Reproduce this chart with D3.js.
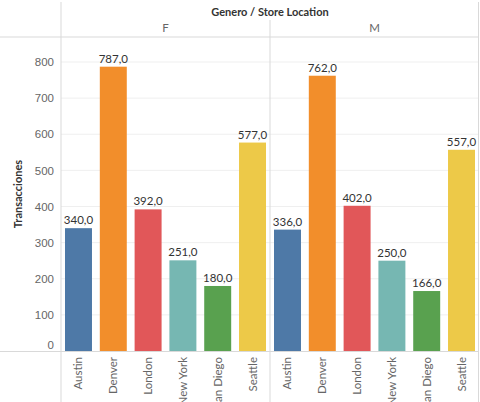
<!DOCTYPE html>
<html>
<head>
<meta charset="utf-8">
<script src="https://cdn.jsdelivr.net/npm/d3@7"></script>
<style>
  body { margin: 0; background: #fff; }
  svg { display: block; font-family: Lato, "Noto Sans", sans-serif; }
</style>
</head>
<body>
<svg width="480" height="402"></svg>
<script>
// data
const genders = ["F", "M"];
const cities = ["Austin", "Denver", "London", "New York", "San Diego", "Seattle"];
const valuesF = [340, 787, 392, 251, 180, 577];
const valuesM = [336, 762, 402, 250, 166, 557];
const yTicks = [0, 100, 200, 300, 400, 500, 600, 700, 800];
const cityColors = ["#4e79a7", "#f28e2b", "#e15759", "#76b7b2", "#59a14f", "#edc948"];

const svg = d3.select("svg");
const plotLeft = 61, plotRight = 479, headerLine = 37, base = 351;

const fmt = d3.formatLocale({ decimal: ",", thousands: ".", grouping: [3], currency: ["", ""] }).format(".1f");

const y = d3.scaleLinear().domain([0, 800]).range([base, 62]);
const xPanel = d3.scaleBand().domain(genders).range([plotLeft, plotRight]);
const xCity = d3.scaleBand().domain(cities).range([0, xPanel.bandwidth()])
  .paddingInner(0.225).paddingOuter(0.115);
const color = d3.scaleOrdinal().domain(cities).range(cityColors);

// gridlines
svg.append("g")
  .selectAll("line")
  .data(yTicks.slice(1))
  .join("line")
  .attr("x1", plotLeft).attr("x2", plotRight)
  .attr("y1", (d) => y(d)).attr("y2", (d) => y(d))
  .attr("stroke", "#efefef");

// y axis labels
const yAxis = svg.append("g")
  .attr("transform", `translate(${plotLeft},0)`)
  .call(d3.axisLeft(y).tickValues(yTicks).tickSize(0).tickPadding(7));
yAxis.select(".domain").remove();
yAxis.selectAll("text")
  .attr("fill", "#666").style("font-size", "11.5px")
  .attr("dy", (d) => (d === 0 ? "-0.2em" : "0.32em"));

svg.append("text")
  .attr("transform", "translate(22,194) rotate(-90)")
  .attr("text-anchor", "middle")
  .attr("fill", "#333").style("font-size", "11px").style("font-weight", "bold")
  .text("Transacciones");

// header
svg.append("text")
  .attr("x", (plotLeft + plotRight) / 2).attr("y", 16)
  .attr("text-anchor", "middle")
  .attr("fill", "#333").style("font-size", "11px").style("font-weight", "bold")
  .text("Genero / Store Location");

const panels = svg.append("g")
  .selectAll("g")
  .data(genders.map((g, i) => ({ g, vals: i === 0 ? valuesF : valuesM })))
  .join("g")
  .attr("transform", (d) => `translate(${xPanel(d.g)},0)`);

panels.append("text")
  .attr("x", xPanel.bandwidth() / 2).attr("y", 32)
  .attr("text-anchor", "middle")
  .attr("fill", "#666").style("font-size", "11.5px")
  .text((d) => d.g);

const bars = panels.selectAll("g.bar")
  .data((d) => cities.map((c, i) => ({ c, v: d.vals[i] })))
  .join("g").attr("class", "bar");

bars.append("rect")
  .attr("x", (d) => xCity(d.c))
  .attr("y", (d) => y(d.v))
  .attr("width", xCity.bandwidth())
  .attr("height", (d) => base - y(d.v))
  .attr("fill", (d) => color(d.c));

bars.append("text")
  .attr("x", (d) => xCity(d.c) + xCity.bandwidth() / 2)
  .attr("y", (d) => y(d.v) - 4)
  .attr("text-anchor", "middle")
  .attr("fill", "#333").style("font-size", "11.5px")
  .text((d) => fmt(d.v));

bars.append("text")
  .attr("transform", (d) => `translate(${xCity(d.c) + xCity.bandwidth() / 2 + 4},357) rotate(-90)`)
  .attr("text-anchor", "end")
  .attr("fill", "#666").style("font-size", "11.5px")
  .text((d) => d.c);

// frame lines
const lineCol = "#d9d9d9";
svg.append("line").attr("x1", 0).attr("x2", plotRight).attr("y1", headerLine).attr("y2", headerLine).attr("stroke", lineCol);
svg.append("line").attr("x1", 0).attr("x2", plotRight).attr("y1", base + 0.5).attr("y2", base + 0.5).attr("stroke", lineCol);
svg.append("line").attr("x1", plotLeft).attr("x2", plotLeft).attr("y1", 2).attr("y2", 402).attr("stroke", lineCol);
svg.append("line").attr("x1", xPanel("M")).attr("x2", xPanel("M")).attr("y1", 20).attr("y2", 402).attr("stroke", lineCol);
svg.append("line").attr("x1", plotRight - 0.5).attr("x2", plotRight - 0.5).attr("y1", 2).attr("y2", 402).attr("stroke", lineCol);
</script>
</body>
</html>
